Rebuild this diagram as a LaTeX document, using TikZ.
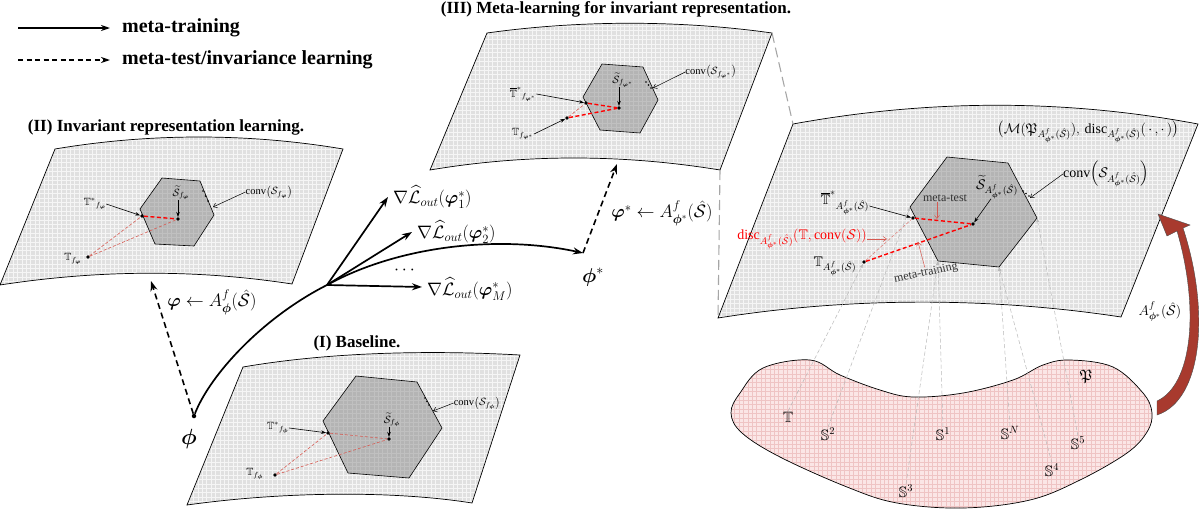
\RequirePackage{fix-cm}
\documentclass[tikz,border=0pt]{standalone}
\usepackage{amsmath,amssymb}
\usepackage{bm}
\usepackage{fontspec}
\setmainfont{Liberation Serif}
\usetikzlibrary{arrows.meta}
\definecolor{sheetbg}{HTML}{E0E0E0}
\definecolor{sheetln}{HTML}{F5F5F5}
\definecolor{beanbg}{HTML}{FBE6E6}
\definecolor{beanln}{HTML}{EFC4C4}
\definecolor{hexgray}{HTML}{808080}
\definecolor{arrowred}{HTML}{A83A2E}
\definecolor{softred}{HTML}{D65A52}
\newcommand\sheetdraw[3]{%
  \begin{scope}
    \clip #1;
    \fill[#2] (0,0) rectangle (1200,509);
    \draw[#3, line width=0.7pt] (0,0) grid[step=4.4pt] (1200,509);
  \end{scope}
  \draw[line width=0.7pt] #1;}
\newcommand\Afs{A^{f}_{\bm\phi^*}(\hat{\mathcal S})}
\begin{document}
\begin{tikzpicture}[x=1pt,y=-1pt,
  legendtxt/.style={font=\fontsize{20}{22}\selectfont\bfseries, inner sep=0pt},
  titletxt/.style={font=\fontsize{17}{19}\selectfont\bfseries, inner sep=0pt},
  biglbl/.style={font=\fontsize{18}{20}\selectfont, inner sep=0pt},
  smlbl/.style={font=\fontsize{10.5}{12}\selectfont, inner sep=0pt},
  midlbl/.style={font=\fontsize{14}{16}\selectfont, inner sep=0pt},
  beanlbl/.style={font=\fontsize{15}{17}\selectfont, inner sep=0.5pt},
  wordlbl/.style={font=\fontsize{12}{13}\selectfont, inner sep=0pt, text=black!80},
  dotpt/.style={circle, fill=black, inner sep=0pt, minimum size=3.6pt},
  mainarrow/.style={line width=1.7pt, -{Stealth[length=10pt,width=7pt]}},
  dasharrow/.style={line width=1.6pt, dash pattern=on 6pt off 4pt, -{Stealth[length=10pt,width=7pt]}},
  legendarrow/.style={line width=1.3pt, -{Stealth[length=9pt,width=6pt]}},
  thinarrow/.style={line width=0.6pt, -{Stealth[length=5pt,width=3.5pt]}},
  openarrow/.style={line width=0.5pt, -{Straight Barb[length=3.5pt,width=5pt]}},
  redthick/.style={red, line width=1.4pt, dash pattern=on 4pt off 2.5pt},
  redthin/.style={softred, line width=0.6pt, dash pattern=on 3pt off 2pt},
  graydash/.style={gray!55, line width=0.5pt, dash pattern=on 4pt off 2.5pt, -{Latex[length=4pt,width=3pt]}},
  zoomdash/.style={gray!70, line width=1.1pt, dash pattern=on 10pt off 5pt},
  hexbox/.style={fill=hexgray, fill opacity=0.45, draw=black, line width=0.6pt},
]
\useasboundingbox (0,0) rectangle (1200,509);
\fill[white] (0,0) rectangle (1200,509);

% ---------- legend ----------
\coordinate (lga) at (18,28); \coordinate (lgb) at (110,28);
\draw[legendarrow] (lga) -- (lgb);
\node[legendtxt, anchor=west] (lgt1) at (122,28) {meta-training};
\coordinate (lgc) at (18,60); \coordinate (lgd) at (110,60);
\draw[legendarrow, dash pattern=on 5pt off 3.5pt] (lgc) -- (lgd);
\node[legendtxt, anchor=west] (lgt2) at (122,60) {meta-test/invariance learning};

% ---------- titles ----------
\node[titletxt] (tII) at (166,127) {(II) Invariant representation learning.};
\node[titletxt] (tIII) at (616,9) {(III) Meta-learning for invariant representation.};
\node[titletxt] (tI) at (357,343) {(I) Baseline.};

% ---------- sheets ----------
\sheetdraw{(55,149) .. controls (150,133) and (248,133) .. (343,149) -- (292,284) .. controls (195,269) and (97,270) .. (0,285) -- cycle}{sheetbg}{sheetln}
\sheetdraw{(487,33) .. controls (580,20) and (680,20) .. (772,33) -- (720,170) .. controls (622,154) and (525,154) .. (430,170) -- cycle}{sheetbg}{sheetln}
\sheetdraw{(243,367) .. controls (330,352) and (430,350) .. (520,355) -- (472,503) .. controls (390,490) and (280,492) .. (187,505) -- cycle}{sheetbg}{sheetln}
\sheetdraw{(793,124) .. controls (930,99) and (1065,99) .. (1198,124) -- (1121,317) .. controls (990,297) and (850,297) .. (718,318) -- cycle}{sheetbg}{sheetln}
\sheetdraw{plot[smooth cycle, tension=0.6] coordinates {(731,413) (740,393) (763,368) (810,360) (840,375) (880,390) (913,397) (963,393) (1013,380) (1043,365) (1070,360) (1113,367) (1143,393) (1152,413) (1147,432) (1127,453) (1080,480) (1030,500) (963,508) (897,503) (847,487) (780,457) (742,433)}}{beanbg}{beanln}

% zoom lines
\coordinate (p3tr) at (772,33); \coordinate (prtl) at (793,124);
\coordinate (p3br) at (720,170); \coordinate (prbl) at (718,318);
\draw[zoomdash] (p3tr) -- (prtl);
\draw[zoomdash] (p3br) -- (prbl);

% ---------- panel II ----------
\draw[hexbox] (162,178) -- (200,181) -- (214,215) -- (194,246) -- (155,244) -- (140,209) -- cycle;
\node[dotpt] (IIts) at (142,216) {};
\node[dotpt] (IIs) at (178,219) {};
\node[dotpt] (IIt) at (88,257) {};
\draw[redthin] (IIt) -- (IIts);
\draw[redthin] (IIt) -- (IIs);
\draw[redthick] (IIts) -- (IIs);
\node[smlbl] (IItsl) at (95,204) {$\mathbb T^{*}{}_{f_{\bm\varphi}}$};
\draw[thinarrow] (IItsl.east) -- (IIts);
\node[smlbl] (IItl) at (73,259) {$\mathbb T_{f_{\bm\varphi}}$};
\node[smlbl] (IIsl) at (181,193) {$\widetilde{\mathcal S}_{f_{\bm\varphi}}$};
\draw[thinarrow] ([xshift=-3pt]IIsl.south) -- (IIs);
\node[smlbl] (IIcl) at (269,192) {$\mathrm{conv}\big(\mathcal S_{f_{\bm\varphi}}\big)$};
\coordinate (IIca) at (213,207);
\draw[openarrow] (IIcl.west) -- (IIca);
\fill (203,191) circle (0.8pt) (205.5,196) circle (0.8pt) (208,201) circle (0.8pt);

% ---------- panel III ----------
\draw[hexbox] (602,64) -- (643,67) -- (658,100) -- (640,133) -- (600,130) -- (583,97) -- cycle;
\node[dotpt] (IIIts) at (586,103) {};
\node[dotpt] (IIIs) at (619,108) {};
\node[dotpt] (IIIt) at (567,118) {};
\draw[redthin] (IIIt) -- (IIIts);
\draw[redthick] (IIIt) -- (IIIs);
\draw[redthick] (IIIts) -- (IIIs);
\node[smlbl] (IIItsl) at (523,94) {$\overline{\mathbb T}^{*}{}_{f_{\bm\varphi^*}}$};
\draw[thinarrow] (IIItsl.east) -- (IIIts);
\node[smlbl] (IIItl) at (523,134) {$\mathbb T_{f_{\bm\varphi^*}}$};
\draw[thinarrow] (IIItl.east) -- (IIIt);
\node[smlbl] (IIIsl) at (623,80) {$\widetilde{\mathcal S}_{f_{\bm\varphi^*}}$};
\draw[thinarrow] ([xshift=-4pt]IIIsl.south) -- (IIIs);
\node[smlbl] (IIIcl) at (711,72) {$\mathrm{conv}\big(\mathcal S_{f_{\bm\varphi^*}}\big)$};
\coordinate (IIIca) at (653,88);
\draw[openarrow] (IIIcl.west) -- (IIIca);
\fill (646,82) circle (0.8pt) (648.5,85) circle (0.8pt) (651,88) circle (0.8pt);

% ---------- panel I ----------
\draw[hexbox] (356,376) -- (417,382) -- (442,428) -- (409,478) -- (348,473) -- (323,421) -- cycle;
\node[dotpt] (Its) at (328,433) {};
\node[dotpt] (Is) at (389,439) {};
\node[dotpt] (It) at (275,475) {};
\draw[redthin] (It) -- (Its);
\draw[redthin] (It) -- (Is);
\draw[redthin] (Its) -- (Is);
\node[smlbl] (Itsl) at (278,428) {$\mathbb T^{*}{}_{f_{\bm\phi}}$};
\draw[thinarrow] (Itsl.east) -- (Its);
\node[smlbl] (Itl) at (255,474) {$\mathbb T_{f_{\bm\phi}}$};
\node[smlbl] (Isl) at (392,420) {$\widetilde{\mathcal S}_{f_{\bm\phi}}$};
\draw[thinarrow] ([xshift=-3pt]Isl.south) -- (Is);
\node[smlbl] (Icl) at (477,403) {$\mathrm{conv}\big(\mathcal S_{f_{\bm\phi}}\big)$};
\coordinate (Ica) at (433,411);
\draw[openarrow] (Icl.west) -- (Ica);
\fill (425,398) circle (0.8pt) (427,401.5) circle (0.8pt) (429,405) circle (0.8pt);

% ---------- right panel ----------
\coordinate (Rh1) at (910,207); \coordinate (Rh2) at (947,157); \coordinate (Rh3) at (1008,163);
\coordinate (Rh4) at (1037,218); \coordinate (Rh5) at (999,267); \coordinate (Rh6) at (938,261);
\draw[hexbox] (Rh1) -- (Rh2) -- (Rh3) -- (Rh4) -- (Rh5) -- (Rh6) -- cycle;
\node[dotpt] (Rts) at (913,218) {};
\node[dotpt] (Rs) at (973,224) {};
\node[dotpt] (Rt) at (864,262) {};
\draw[redthin, opacity=0.7] (Rt) -- (Rts);
\draw[redthick] (Rt) -- (Rs);
\draw[redthick] (Rts) -- (Rs);
\node[midlbl] (Rtsl) at (845,203) {$\overline{\mathbb T}^{*}{}_{\Afs}$};
\draw[thinarrow] ([yshift=-3pt]Rtsl.east) -- (Rts);
\node[midlbl] (Rtl) at (835,266) {$\mathbb T_{\Afs}$};
\node[midlbl, text=red] (Rdl) at (802,239) {$\mathrm{disc}_{\Afs}(\mathbb T,\mathrm{conv}(\mathcal S))$};
\coordinate (Rda) at (887,239);
\draw[openarrow, softred] (Rdl.east) -- (Rda);
\node[wordlbl] (Rmt) at (945,198) {meta-test};
\coordinate (Rmta) at (937,219);
\draw[openarrow, softred] ([xshift=-8pt]Rmt.south) -- (Rmta);
\node[wordlbl, rotate=12] (Rmtr) at (926,273) {meta-training};
\coordinate (Rmtra) at (918,242);
\draw[openarrow, softred] (Rmtr.north) -- (Rmtra);
\node[midlbl] (Rsl) at (997,187) {$\widetilde{\mathcal S}_{\Afs}$};
\draw[thinarrow] ([xshift=-6pt]Rsl.south) -- (Rs);
\fill (1023,191) circle (0.8pt) (1026,193.5) circle (0.8pt) (1029,196) circle (0.8pt);
\node[midlbl] (Rcl) at (1106,174) {$\mathrm{conv}\Big(\mathcal S_{\Afs}\Big)$};
\coordinate (Rca) at (1030,198);
\draw[openarrow] (Rcl.west) -- (Rca);
\node[midlbl] (Rml) at (1088,132) {$\big(\mathcal M(\mathfrak P_{\Afs}),\,\mathrm{disc}_{\Afs}(\,\cdot\,,\cdot\,)\big)$};

% ---------- bean labels and projection lines ----------
\node[beanlbl] (bT) at (788,417) {$\mathbb T$};
\node[beanlbl] (bS2) at (828,434) {$\mathbb S^2$};
\node[beanlbl] (bS3) at (906,491) {$\mathbb S^3$};
\node[beanlbl] (bS1) at (943,434) {$\mathbb S^1$};
\node[beanlbl] (bSN) at (1010,433) {$\mathbb S^N$};
\node[beanlbl] (bS4) at (1052,470) {$\mathbb S^4$};
\node[beanlbl] (bS5) at (1078,443) {$\mathbb S^5$};
\node[beanlbl] (bP) at (1086,377) {$\mathfrak P$};
\draw[graydash] (bT.north) -- (Rt);
\draw[graydash] (bS2.north) -- (Rh1);
\draw[graydash] (bS3.north) -- (Rh6);
\draw[graydash] (bS1.north) -- (Rh6);
\draw[graydash] (bSN.north) -- (Rh5);
\draw[graydash] (bS4.north) -- (Rh5);
\draw[graydash] (bS5.north) -- (Rh4);

% ---------- red curved arrow ----------
\fill[arrowred, draw=black!70, line width=0.4pt] (1157,401) .. controls (1192,385) and (1200,310) .. (1177,231) -- (1167,236) -- (1158,214) -- (1190,225) -- (1183,228) .. controls (1210,310) and (1203,400) .. (1157,415) -- cycle;
\node[midlbl] (Ral) at (1160,312) {$\Afs$};

% ---------- central arrows ----------
\node[dotpt, minimum size=4.5pt] (phd) at (194,416) {};
\node[font=\fontsize{22}{24}\selectfont, inner sep=0pt] (phl) at (189,439) {$\bm\phi$};
\coordinate (IIin) at (151,281);
\draw[dasharrow] (phd) -- (IIin);
\node[biglbl] (IIlab) at (212,302) {$\bm\varphi\leftarrow A^{f}_{\bm\phi}(\hat{\mathcal S})$};
\coordinate (br) at (327,285);
\draw[line width=1.7pt] (phd) .. controls (210,375) and (262,318) .. (br);
\coordinate (g1) at (388,197);
\coordinate (g2) at (412,232);
\coordinate (gM) at (422,287);
\draw[mainarrow] (br) -- (g1);
\draw[mainarrow] (br) -- (g2);
\draw[mainarrow] (br) -- (gM);
\node[biglbl, anchor=west] (g1l) at (393,197) {$\nabla\widehat{\mathcal L}_{out}(\bm\varphi^*_1)$};
\node[biglbl, anchor=west] (g2l) at (417,232) {$\nabla\widehat{\mathcal L}_{out}(\bm\varphi^*_2)$};
\node[biglbl, anchor=west] (gMl) at (427,289) {$\nabla\widehat{\mathcal L}_{out}(\bm\varphi^*_M)$};
\node[biglbl] (gdots) at (406,270) {$\cdots$};
\coordinate (phs) at (583,253);
\draw[mainarrow] (br) .. controls (400,245) and (500,235) .. (phs);
\node[font=\fontsize{20}{22}\selectfont, inner sep=0pt] (phsl) at (593,277) {$\bm\phi^*$};
\coordinate (IIIin) at (617,164);
\draw[dasharrow] (phs) -- (IIIin);
\node[biglbl] (IIIlab) at (662,213) {$\bm\varphi^*\leftarrow A^{f}_{\bm\phi^*}(\hat{\mathcal S})$};
\end{tikzpicture}
\end{document}
